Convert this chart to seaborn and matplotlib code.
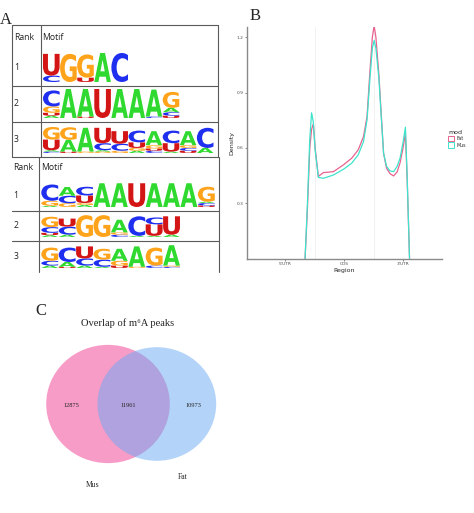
import matplotlib
matplotlib.use("Agg")
import numpy as np
import pandas as pd
import matplotlib.pyplot as plt
import seaborn as sns
from matplotlib.font_manager import FontProperties
from matplotlib.textpath import TextPath
from matplotlib.patches import PathPatch, Patch, Ellipse
from matplotlib.transforms import Affine2D

# ---- data -------------------------------------------------------------
# motif logos: one list per position, letters bottom -> top, height as share of row
MOTIFS_TOP = [
    [[("C", 0.22), ("U", 0.75)], [("G", 0.97)], [("U", 0.15), ("G", 0.8)],
     [("A", 1.0)], [("C", 1.0)]],
    [[("A", 0.08), ("U", 0.1), ("G", 0.22), ("C", 0.55)], [("A", 1.0)],
     [("U", 0.05), ("A", 0.95)], [("U", 1.0)], [("A", 1.0)], [("A", 1.0)],
     [("C", 0.05), ("A", 0.93)], [("U", 0.08), ("C", 0.12), ("A", 0.15), ("G", 0.55)]],
    [[("C", 0.05), ("A", 0.05), ("U", 0.38), ("G", 0.45)],
     [("U", 0.05), ("A", 0.42), ("G", 0.45)], [("G", 0.05), ("A", 0.85)],
     [("G", 0.05), ("A", 0.05), ("C", 0.25), ("U", 0.55)],
     [("G", 0.08), ("C", 0.25), ("U", 0.45)],
     [("A", 0.08), ("G", 0.1), ("U", 0.2), ("C", 0.42)],
     [("C", 0.08), ("U", 0.08), ("G", 0.12), ("A", 0.5)],
     [("A", 0.05), ("U", 0.3), ("C", 0.45)],
     [("U", 0.08), ("C", 0.1), ("G", 0.1), ("A", 0.5)],
     [("A", 0.18), ("C", 0.72)]],
]
MOTIFS_BOTTOM = [
    [[("A", 0.05), ("G", 0.2), ("C", 0.65)], [("G", 0.15), ("C", 0.3), ("A", 0.35)],
     [("A", 0.08), ("G", 0.08), ("U", 0.3), ("C", 0.35)], [("A", 0.95)], [("A", 0.95)],
     [("U", 0.95)], [("A", 0.95)], [("A", 0.95)], [("A", 0.95)],
     [("U", 0.06), ("C", 0.1), ("A", 0.05), ("G", 0.6)]],
    [[("A", 0.08), ("U", 0.1), ("C", 0.25), ("G", 0.45)], [("A", 0.1), ("C", 0.35), ("U", 0.35)],
     [("G", 0.95)], [("G", 0.95)], [("C", 0.1), ("G", 0.1), ("A", 0.55)],
     [("A", 0.05), ("C", 0.85)], [("A", 0.05), ("U", 0.5), ("C", 0.3)],
     [("A", 0.1), ("U", 0.8)]],
    [[("A", 0.1), ("C", 0.2), ("G", 0.55)], [("U", 0.05), ("A", 0.2), ("C", 0.6)],
     [("A", 0.1), ("C", 0.3), ("U", 0.5)], [("A", 0.05), ("C", 0.3), ("G", 0.45)],
     [("U", 0.1), ("G", 0.2), ("A", 0.5)], [("G", 0.05), ("A", 0.85)],
     [("C", 0.1), ("G", 0.75)], [("C", 0.05), ("G", 0.05), ("A", 0.85)]],
]
RANKS = ["1", "2", "3"]

# metagene density
REGION_X = [0.84, 0.88, 0.92, 0.95, 0.98, 1.01, 1.065, 1.15, 1.32, 1.49, 1.63, 1.74,
            1.83, 1.89, 1.94, 1.98, 2.01, 2.04, 2.09, 2.12, 2.17, 2.22, 2.28, 2.34,
            2.40, 2.45, 2.50, 2.54, 2.57, 2.61]
DENSITY_MUS = [0, 0.3, 0.65, 0.79, 0.74, 0.59, 0.44, 0.435, 0.453, 0.484, 0.517, 0.562,
               0.634, 0.752, 0.98, 1.14, 1.182, 1.14, 0.98, 0.82, 0.571, 0.50, 0.475, 0.471,
               0.50, 0.545, 0.63, 0.712, 0.44, 0]
DENSITY_FAT = [0, 0.27, 0.6, 0.70, 0.73, 0.60, 0.445, 0.466, 0.471, 0.508, 0.544, 0.589,
               0.661, 0.77, 1.02, 1.2, 1.262, 1.2, 1.0, 0.84, 0.571, 0.49, 0.46, 0.448,
               0.47, 0.52, 0.60, 0.68, 0.43, 0]
REGION_TICKS = [0.5, 1.5, 2.5]
REGION_LABELS = ["5'UTR", "CDS", "3'UTR"]
DENSITY_TICKS = [0.3, 0.6, 0.9, 1.2]

# venn counts
MUS_ONLY = 12875
SHARED = 11961
FAT_ONLY = 10973

# ---- style ------------------------------------------------------------
LETTER_COLORS = {"A": "#2fd92f", "C": "#1f2ff0", "G": "#ffa31a", "U": "#d41515"}
LOGO_FONT = FontProperties(family="DejaVu Sans", weight="bold")
FAT_COLOR = "#e8628f"
MUS_COLOR = "#3fe3cc"
MUS_FILL = "#f79cc7"
FAT_FILL = "#69a9f5"

sns.set_theme(style="ticks")
plt.rcParams["font.family"] = ["DejaVu Sans"]

fig = plt.figure(figsize=(4.74, 5.13), dpi=100)
bg = fig.add_axes([0, 0, 1, 1])
bg.set_xlim(0, 474)
bg.set_ylim(513, 0)
bg.axis("off")


def draw_letter(ax, letter, x, y_bottom, w, h):
    tp = TextPath((0, 0), letter, size=1, prop=LOGO_FONT)
    bb = tp.get_extents()
    tr = (Affine2D().translate(-bb.x0, -bb.y0)
          .scale(w / bb.width, -h / bb.height).translate(x, y_bottom))
    ax.add_patch(PathPatch(tr.transform_path(tp), facecolor=LETTER_COLORS[letter],
                           edgecolor="none"))


def draw_logo(ax, motif, x0, y_bottom, col_w, full_h):
    for i, column in enumerate(motif):
        y = y_bottom
        for letter, share in column:
            h = share * full_h
            draw_letter(ax, letter, x0 + i * col_w, y, col_w * 0.97, h)
            y -= h


def draw_table(ax, motifs, left, col_x, right, header_y, row_lines, with_left, col_w):
    lc = "#5a5a5a"
    top = header_y[0]
    for y in [top] + row_lines[:-1] if with_left else row_lines[:-1]:
        ax.plot([left if with_left else col_x - 27, right], [y, y], color=lc, lw=0.8)
    bottom = row_lines[-1]
    ax.plot([col_x, col_x], [top, bottom], color=lc, lw=0.8)
    ax.plot([right, right], [top, bottom], color=lc, lw=0.8)
    if with_left:
        ax.plot([left, left], [top, bottom], color=lc, lw=0.8)
        ax.plot([left, right], [bottom, bottom], color=lc, lw=0.8)
    ax.text(left + 1.5, header_y[1], "Rank", fontsize=6.2, family="Open Sans",
            va="center", ha="left", color="#222222")
    ax.text(col_x + 1.5, header_y[1], "Motif", fontsize=6.2, family="Open Sans",
            va="center", ha="left", color="#222222")
    bounds = [header_y[2]] + row_lines
    for k, motif in enumerate(motifs):
        r_top, r_bot = bounds[k], bounds[k + 1]
        ax.text(left + 1.5, (r_top + r_bot) / 2, RANKS[k], fontsize=6.2,
                family="Open Sans", va="center", ha="left", color="#222222")
        full_h = (r_bot - r_top) - 7
        draw_logo(ax, motif, col_x + 2, r_bot - 4, col_w, full_h)


# ---- panel A ----------------------------------------------------------
draw_table(bg, MOTIFS_TOP, 12.3, 41, 218, (25, 37, 50), [86, 122, 157], True, 17.1)
draw_table(bg, MOTIFS_BOTTOM, 12, 39.3, 219, (157, 168, 179), [211, 241, 272], False, 17.4)
bg.text(0, 24, "A", fontsize=12, family="Liberation Serif", ha="left", va="baseline")

# ---- panel B ----------------------------------------------------------
dens = pd.DataFrame({
    "Region": REGION_X * 2,
    "Density": DENSITY_FAT + DENSITY_MUS,
    "mod": ["Fat"] * len(REGION_X) + ["Mus"] * len(REGION_X),
})
axb = fig.add_axes([247 / 474, (513 - 258.6) / 513, 195 / 474, (258.6 - 27) / 513])
axb.set_facecolor("none")
for xv in [1, 2]:
    axb.axvline(xv, color="#ebebeb", lw=0.5, zorder=0)
sns.lineplot(data=dens, x="Region", y="Density", hue="mod", hue_order=["Fat", "Mus"],
             palette={"Fat": FAT_COLOR, "Mus": MUS_COLOR}, estimator=None, sort=False,
             lw=0.9, ax=axb, legend=False)
axb.set_xlim(-0.144, 3.16)
axb.set_ylim(0, 1.255)
axb.set_xticks(REGION_TICKS)
axb.set_xticklabels(REGION_LABELS)
axb.set_yticks(DENSITY_TICKS)
axb.set_yticklabels([f"{v:.1f}" for v in DENSITY_TICKS])
axb.tick_params(labelsize=3.2, length=1.2, width=0.5, color="#555555",
                labelcolor="#4d4d4d", pad=1.2)
for side in ["top", "right"]:
    axb.spines[side].set_visible(False)
for side in ["left", "bottom"]:
    axb.spines[side].set_color("#8a8a8a")
    axb.spines[side].set_linewidth(1.0)
axb.set_xlabel("Region", fontsize=4.5, labelpad=1.5)
axb.set_ylabel("Density", fontsize=4.5, labelpad=2)
handles = [Patch(facecolor="none", edgecolor=FAT_COLOR, lw=0.7, label="Fat"),
           Patch(facecolor="none", edgecolor=MUS_COLOR, lw=0.7, label="Mus")]
leg = fig.legend(handles=handles, title="mod", loc="upper left",
                 bbox_to_anchor=(446 / 474, 1 - 128 / 513), frameon=False,
                 fontsize=3.4, title_fontsize=4.5, handlelength=1.3, handleheight=1.3,
                 handletextpad=0.5, labelspacing=0.25, borderaxespad=0)
leg._legend_box.align = "left"
bg.text(250, 20, "B", fontsize=12, family="Liberation Serif", ha="left", va="baseline")

# ---- panel C ----------------------------------------------------------
r_mus = np.sqrt((MUS_ONLY + SHARED) / np.pi)
r_fat = np.sqrt((FAT_ONLY + SHARED) / np.pi)


def lens_area(d):
    a1 = r_mus ** 2 * np.arccos((d ** 2 + r_mus ** 2 - r_fat ** 2) / (2 * d * r_mus))
    a2 = r_fat ** 2 * np.arccos((d ** 2 + r_fat ** 2 - r_mus ** 2) / (2 * d * r_fat))
    a3 = 0.5 * np.sqrt((-d + r_mus + r_fat) * (d + r_mus - r_fat)
                       * (d - r_mus + r_fat) * (d + r_mus + r_fat))
    return a1 + a2 - a3


lo, hi = abs(r_mus - r_fat) + 1e-6, r_mus + r_fat - 1e-6
for _ in range(80):
    mid = (lo + hi) / 2
    if lens_area(mid) > SHARED:
        lo = mid
    else:
        hi = mid
dist = (lo + hi) / 2

sx, sy = 0.695, 0.665  # px per unit
cx_px, cy_px = 108, 404
px_left, px_right, py_top, py_bot = 20, 240, 330, 505
axc = fig.add_axes([px_left / 474, 1 - py_bot / 513, (px_right - px_left) / 474,
                    (py_bot - py_top) / 513])
axc.set_xlim((px_left - cx_px) / sx, (px_right - cx_px) / sx)
axc.set_ylim((cy_px - py_bot) / sy, (cy_px - py_top) / sy)
axc.axis("off")
axc.add_patch(Ellipse((0, 0), 2 * r_mus, 2 * r_mus, facecolor=MUS_FILL, edgecolor="none"))
axc.add_patch(Ellipse((dist, 0), 2 * r_fat, 2 * r_fat, facecolor=FAT_FILL,
                      edgecolor="none", alpha=0.5))
serif = "Liberation Serif"
axc.text(((-r_mus) + (dist - r_fat)) / 2, -3, f"{MUS_ONLY}", fontsize=4.6, family=serif,
         ha="center", va="center")
axc.text(((dist - r_fat) + r_mus) / 2 - 8, -3, f"{SHARED}", fontsize=4.6, family=serif,
         ha="center", va="center")
axc.text((r_mus + dist + r_fat) / 2, -3, f"{FAT_ONLY}", fontsize=4.6, family=serif,
         ha="center", va="center")
bg.text(93, 485, "Mus", fontsize=5.5, family=serif, ha="center", va="center")
bg.text(183, 477, "Fat", fontsize=5.5, family=serif, ha="center", va="center")
bg.text(128, 323, "Overlap of m\u2076A peaks", fontsize=7.6, family=[serif, "DejaVu Serif"],
        ha="center", va="center")
bg.text(35, 315, "C", fontsize=12, family=serif, ha="left", va="baseline")

fig.savefig("out.png", dpi=100)
